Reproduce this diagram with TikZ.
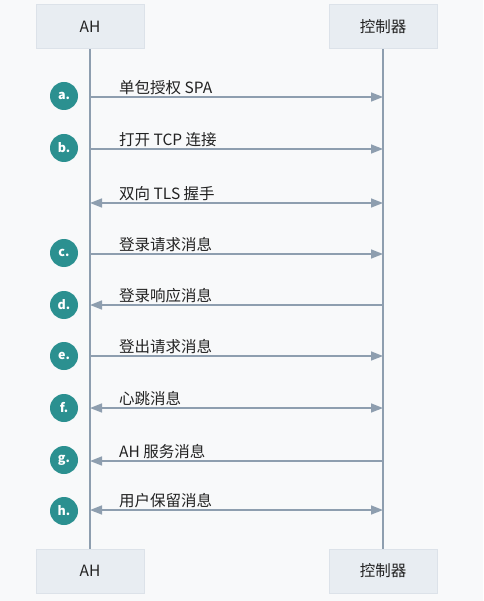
\documentclass[tikz,border=0pt]{standalone}
\usepackage{fontspec}
\setmainfont{Noto Sans CJK SC}
\usetikzlibrary{arrows.meta}
\definecolor{bgc}{HTML}{F8F9FA}
\definecolor{boxc}{HTML}{E8EDF2}
\definecolor{boxl}{HTML}{DCE2E9}
\definecolor{linec}{HTML}{8E9EAF}
\definecolor{tealc}{HTML}{2B9090}
\definecolor{txtc}{HTML}{222222}
\begin{document}
\begin{tikzpicture}[x=1pt,y=-1pt]
    \tikzstyle{every node}+=[inner sep=0pt, text=txtc, font=\fontsize{15.5}{17}\selectfont]
    \tikzstyle{actor}=[draw=boxl, fill=boxc, line width=1pt, minimum width=108pt, minimum height=44pt]
    \tikzstyle{life}=[draw=linec, line width=2.2pt]
    \tikzstyle{msg}=[draw=linec, line width=1.6pt]
    \tikzstyle{tip}=[-{Triangle[length=12pt,width=9pt]}]
    \tikzstyle{both}=[{Triangle[length=12pt,width=9pt]}-{Triangle[length=12pt,width=9pt]}]
    \tikzstyle{back}=[{Triangle[length=12pt,width=9pt]}-]
    \tikzstyle{badge}=[circle, fill=tealc, minimum size=28pt, text=white, font=\fontsize{12.5}{14}\selectfont\bfseries]
    \fill [bgc] (0,0) rectangle (483,601);
    \useasboundingbox (0,0) rectangle (483,601);
    \node [actor] (AHtop) at (90,27) {AH};
    \node [actor] (CTtop) at (383,27) {控制器};
    \node [actor] (AHbot) at (90,571) {AH};
    \node [actor] (CTbot) at (383,571) {控制器};
    \draw [life] (AHtop.south) -- (AHbot.north);
    \draw [life] (CTtop.south) -- (CTbot.north);
    % a.
    \coordinate (a1) at (90,97); \coordinate (a2) at (383,97);
    \node [badge] (na) at (64,96) {a.};
    \draw [msg, tip] (a1) -- (a2);
    \node [anchor=south west] (la) at (119,95) {单包授权 SPA};
    % b.
    \coordinate (b1) at (90,149); \coordinate (b2) at (383,149);
    \node [badge] (nb) at (64,148) {b.};
    \draw [msg, tip] (b1) -- (b2);
    \node [anchor=south west] (lb) at (119,147) {打开 TCP 连接};
    % TLS
    \coordinate (t1) at (90,203); \coordinate (t2) at (383,203);
    \draw [msg, both] (t1) -- (t2);
    \node [anchor=south west] (lt) at (119,201) {双向 TLS 握手};
    % c.
    \coordinate (c1) at (90,254); \coordinate (c2) at (383,254);
    \node [badge] (nc) at (64,253) {c.};
    \draw [msg, tip] (c1) -- (c2);
    \node [anchor=south west] (lc) at (119,252) {登录请求消息};
    % d.
    \coordinate (d1) at (90,305); \coordinate (d2) at (383,305);
    \node [badge] (nd) at (64,305) {d.};
    \draw [msg, back] (d1) -- (d2);
    \node [anchor=south west] (ld) at (119,303) {登录响应消息};
    % e.
    \coordinate (e1) at (90,356); \coordinate (e2) at (383,356);
    \node [badge] (ne) at (64,356) {e.};
    \draw [msg, tip] (e1) -- (e2);
    \node [anchor=south west] (le) at (119,354) {登出请求消息};
    % f.
    \coordinate (f1) at (90,408); \coordinate (f2) at (383,408);
    \node [badge] (nf) at (64,408) {f.};
    \draw [msg, both] (f1) -- (f2);
    \node [anchor=south west] (lf) at (119,406) {心跳消息};
    % g.
    \coordinate (g1) at (90,461); \coordinate (g2) at (383,461);
    \node [badge] (ng) at (64,460) {g.};
    \draw [msg, back] (g1) -- (g2);
    \node [anchor=south west] (lg) at (119,459) {AH 服务消息};
    % h.
    \coordinate (h1) at (90,510); \coordinate (h2) at (383,510);
    \node [badge] (nh) at (64,511) {h.};
    \draw [msg, both] (h1) -- (h2);
    \node [anchor=south west] (lh) at (119,508) {用户保留消息};
\end{tikzpicture}
\end{document}
